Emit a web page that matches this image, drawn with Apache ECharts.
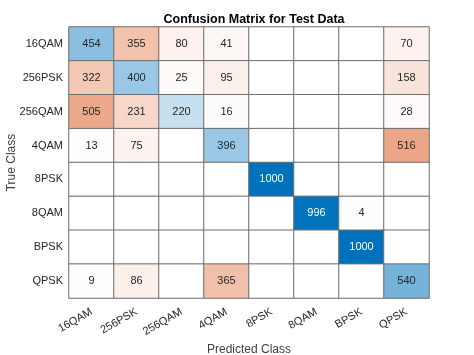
<!DOCTYPE html>
<html><head><meta charset="utf-8">
<script src="https://cdn.jsdelivr.net/npm/echarts@6/dist/echarts.min.js"></script>
<style>html,body{margin:0;padding:0;background:#fff}#c{width:474px;height:355px}</style>
</head><body><div id="c"></div>
<script>
const classes = ['16QAM','256PSK','256QAM','4QAM','8PSK','8QAM','BPSK','QPSK'];
// rows = true class, columns = predicted class
const row16QAM  = [454, 355, 80, 41, 0, 0, 0, 70];
const row256PSK = [322, 400, 25, 95, 0, 0, 0, 158];
const row256QAM = [505, 231, 220, 16, 0, 0, 0, 28];
const row4QAM   = [13, 75, 0, 396, 0, 0, 0, 516];
const row8PSK   = [0, 0, 0, 0, 1000, 0, 0, 0];
const row8QAM   = [0, 0, 0, 0, 0, 996, 4, 0];
const rowBPSK   = [0, 0, 0, 0, 0, 0, 1000, 0];
const rowQPSK   = [9, 86, 0, 365, 0, 0, 0, 540];
const matrix = [row16QAM,row256PSK,row256QAM,row4QAM,row8PSK,row8QAM,rowBPSK,rowQPSK];

const diagRGB = [0, 114, 189];
const offRGB = [217, 83, 25];
const maxVal = 1000;
function mix(rgb, t){
  const c = rgb.map(v => Math.round(255 + (v - 255) * t));
  return 'rgb(' + c.join(',') + ')';
}
const data = [];
matrix.forEach((row, i) => row.forEach((v, j) => {
  const t = v / maxVal;
  data.push({
    value: [j, i, v],
    itemStyle: { color: v === 0 ? '#ffffff' : mix(i === j ? diagRGB : offRGB, t) },
    label: { color: t > 0.7 ? '#ffffff' : '#262626' }
  });
}));

const chart = echarts.init(document.getElementById('c'), null, {renderer:'canvas'});
const font = '"Liberation Sans", Arial, Helvetica, sans-serif';
chart.setOption({
  animation: false,
  textStyle: { fontFamily: font },
  title: {
    text: 'Confusion Matrix for Test Data',
    left: 249, top: 8, textAlign: 'center',
    textStyle: { fontSize: 12.5, fontWeight: 'bold', color: '#000', fontFamily: font }
  },
  grid: { left: 69, right: 45, top: 27, height: 271, containLabel: false, outerBoundsMode: 'none' },
  xAxis: {
    type: 'category', data: classes,
    name: 'Predicted Class', nameLocation: 'middle', nameGap: 44,
    nameTextStyle: { fontSize: 12, color: '#404040', fontFamily: font },
    axisLine: { show: false }, axisTick: { show: false },
    axisLabel: { rotate: 30, fontSize: 11, color: '#262626', margin: 13, fontFamily: font },
    splitLine: { show: false }
  },
  yAxis: [{
    type: 'category', data: classes, inverse: true,
    axisLine: { show: false }, axisTick: { show: false },
    axisLabel: { fontSize: 11, color: '#262626', margin: 6, fontFamily: font },
    splitLine: { show: false }
  }, {
    type: 'category', data: classes, inverse: true, position: 'left',
    name: 'True Class', nameLocation: 'middle', nameGap: 51,
    nameTextStyle: { fontSize: 12, color: '#404040', fontFamily: font },
    axisLine: { show: false }, axisTick: { show: false },
    axisLabel: { show: false },
    splitLine: { show: false }
  }],
  series: [{
    type: 'heatmap',
    data: data,
    itemStyle: { borderColor: '#6e6e6e', borderWidth: 1 },
    label: {
      show: true, fontSize: 11, fontFamily: font,
      formatter: p => p.value[2] > 0 ? String(p.value[2]) : ''
    },
    emphasis: { disabled: true }
  }]
});
</script></body></html>
